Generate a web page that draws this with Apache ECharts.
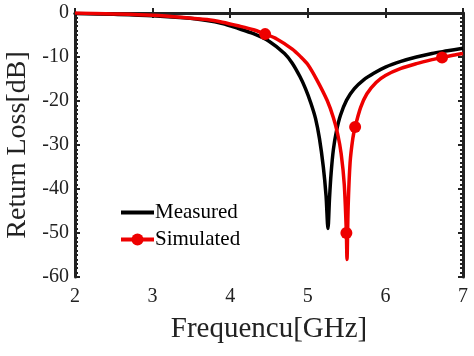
<!DOCTYPE html>
<html>
<head>
<meta charset="utf-8">
<script src="https://cdn.jsdelivr.net/npm/echarts@6/dist/echarts.min.js"></script>
<style>html,body{margin:0;padding:0;background:#fff}#c{width:474px;height:356px}</style>
</head>
<body>
<div id="c"></div>
<script>
const measFreq = [2.0,2.5,3.0,3.4,3.7,3.9,4.1,4.3,4.5,4.7,4.8,4.9,4.97,5.04,5.1,5.15,5.2,5.235,5.26,5.28,5.3,5.33,5.37,5.42,5.5,5.6,5.72,5.85,6.0,6.2,6.4,6.6,6.8,7.0];
const measLoss = [-0.1,-0.3,-0.6,-1.1,-1.7,-2.4,-3.5,-4.7,-6.4,-9.2,-11.4,-14.5,-17.2,-20.5,-24,-28.5,-35,-41.5,-49,-42,-36.5,-31,-26.8,-23.3,-19.8,-17.2,-15.2,-13.7,-12.3,-11.0,-10.0,-9.2,-8.6,-8.0];
const simFreq = [2.0,2.5,3.0,3.4,3.7,3.9,4.1,4.3,4.45,4.6,4.8,4.9,5.0,5.12,5.25,5.33,5.385,5.43,5.47,5.497,5.505,5.52,5.545,5.58,5.61,5.68,5.76,5.88,6.0,6.2,6.4,6.6,6.73,6.87,7.0];
const simLoss = [0,-0.2,-0.5,-1.0,-1.5,-2.1,-2.9,-3.8,-4.8,-5.9,-8.2,-9.8,-11.7,-15.3,-19.9,-23.8,-27.5,-32,-39,-50,-56,-44,-34,-28.5,-25.9,-21.5,-18.4,-15.8,-14.2,-12.6,-11.5,-10.6,-10.1,-9.6,-9.2];
const simMarkerIdx = [8,19,24,32];
const xTicks = [2,3,4,5,6,7];
const yTicks = [0,-10,-20,-30,-40,-50,-60];
const seriesNames = ['Measured','Simulated'];

const FONT = 'Liberation Serif';
const AX = '#222';
const RED = '#ee0000';

const measData = measFreq.map((f,i)=>[f, measLoss[i]]);
const simData = simFreq.map((f,i)=> simMarkerIdx.includes(i)
  ? {value:[f, simLoss[i]]}
  : {value:[f, simLoss[i]], symbol:'none'});

const chart = echarts.init(document.getElementById('c'), null, {renderer:'canvas'});
chart.setOption({
  animation:false,
  backgroundColor:'#fff',
  textStyle:{fontFamily:FONT},
  grid:{left:75, right:11, top:13, bottom:79, containLabel:false, outerBoundsMode:'none'},
  legend:{
    left:114, top:197, orient:'vertical', itemWidth:33, itemHeight:15, itemGap:6,
    data:[
      {name:seriesNames[0], itemStyle:{color:'rgba(0,0,0,0)', borderWidth:0, opacity:0}},
      {name:seriesNames[1]}
    ],
    lineStyle:{width:4},
    textStyle:{fontFamily:FONT, fontSize:21, color:'#000', padding:[0,0,0,-4]}
  },
  xAxis:[{
    type:'value', min:xTicks[0], max:xTicks[xTicks.length-1], interval:1,
    name:'Frequencu[GHz]', nameLocation:'middle', nameGap:38,
    nameTextStyle:{fontFamily:FONT, fontSize:29, color:'#222'},
    axisLine:{show:true, lineStyle:{color:AX, width:3}},
    axisTick:{show:true, inside:true, length:5, lineStyle:{color:AX, width:2}},
    axisLabel:{fontFamily:FONT, fontSize:20, color:'#222', margin:10},
    splitLine:{show:false}
  },{
    type:'value', position:'top', min:xTicks[0], max:xTicks[xTicks.length-1], interval:1,
    axisLine:{show:true, lineStyle:{color:AX, width:3}},
    axisTick:{show:true, inside:true, length:5, lineStyle:{color:AX, width:2}},
    axisLabel:{show:false}, splitLine:{show:false}
  }],
  yAxis:[{
    type:'value', min:yTicks[yTicks.length-1], max:yTicks[0], interval:10,
    name:'Return Loss[dB]', nameLocation:'middle', nameGap:39,
    nameTextStyle:{fontFamily:FONT, fontSize:28, color:'#222'},
    axisLine:{show:true, lineStyle:{color:AX, width:3}},
    axisTick:{show:true, inside:true, length:5, lineStyle:{color:AX, width:2}},
    minorTick:{show:true, splitNumber:10, length:3, lineStyle:{color:AX, width:2}},
    axisLabel:{fontFamily:FONT, fontSize:20, color:'#222', margin:6},
    splitLine:{show:false}, minorSplitLine:{show:false}
  },{
    type:'value', position:'right', min:yTicks[yTicks.length-1], max:yTicks[0], interval:10,
    axisLine:{show:true, lineStyle:{color:AX, width:3}},
    axisTick:{show:true, inside:true, length:5, lineStyle:{color:AX, width:2}},
    minorTick:{show:true, splitNumber:10, length:3, lineStyle:{color:AX, width:2}},
    axisLabel:{show:false}, splitLine:{show:false}, minorSplitLine:{show:false}
  }],
  series:[{
    name:seriesNames[0], type:'line', data:measData, smooth:0.3,
    symbol:'none', lineStyle:{color:'#000', width:3.5}, itemStyle:{color:'#000'}, z:3
  },{
    name:seriesNames[1], type:'line', data:simData, smooth:0.3,
    symbol:'circle', symbolSize:12, showSymbol:true, showAllSymbol:true,
    lineStyle:{color:RED, width:3.5}, itemStyle:{color:RED}, z:4
  }]
});
</script>
</body>
</html>
